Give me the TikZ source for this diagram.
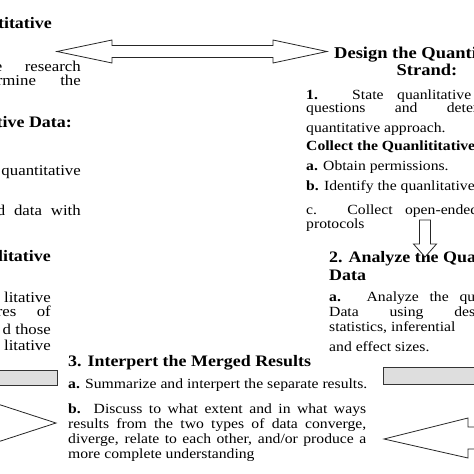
\documentclass[tikz,border=0pt]{standalone}
\usepackage{fontspec}
\setmainfont{Liberation Serif}[FakeStretch=1.12]
\newcommand{\ftxt}{\fontsize{14}{15}\selectfont}
\newcommand{\fleft}{\fontsize{15}{16}\selectfont}
\newcommand{\fhead}{\fontsize{16}{17}\selectfont\bfseries}
% one justified line of a given width
\newcommand{\jl}[2]{\makebox[#1pt][s]{#2}}
\tikzset{
  ln/.style={anchor=base west, inner sep=0pt, font=\ftxt},
  lnr/.style={ln, anchor=base east, font=\fleft},
  lnb/.style={ln, font=\ftxt\bfseries},
  hdr/.style={ln, font=\fhead},
  hdrr/.style={hdr, anchor=base east},
  blk/.style={draw=black!85, line width=0.8pt, fill=white},
  bar/.style={draw=black!80, line width=1pt, fill=black!13}
}
\begin{document}
\begin{tikzpicture}[x=1pt,y=-1pt]
\useasboundingbox (0,0) rectangle (474,474);
\clip (0,0) rectangle (474,474);

% left strand
\node[hdrr] (lhead) at (52,28) {titative};
\node[lnr] (l1) at (81,71) {\jl{86}{e research}};
\node[lnr] (l2) at (81,85) {\jl{84}{rmine the}};
\node[hdrr] (lcoll) at (72,127) {tive Data:};
\node[lnr] (l3) at (81,175) {quantitative};
\node[lnr] (l4) at (81,215) {\jl{84}{d data with}};
\node[hdrr] (lana) at (51,261) {litative};
\node[lnr] (l5) at (51,302) {litative};
\node[lnr] (l6) at (51,316) {\jl{54}{res of}};
\node[lnr] (l7) at (51,334) {d those};
\node[lnr] (l8) at (51,350) {litative};

% right strand
\node[hdr, font=\fontsize{16.5}{17}\selectfont\bfseries] (rhead) at (334,58) {Design the Quanti};
\node[hdr, anchor=base, font=\fontsize{16.5}{17}\selectfont\bfseries] (rstrand) at (427,75) {Strand:};
\node[ln] (r1) at (306,99) {\jl{165}{\textbf{1.} State quanlitative}};
\node[ln] (r2) at (306,112) {\jl{172}{questions and deter}};
\node[ln] (r3) at (306,132) {quantitative approach.};
\node[lnb] (rcoll) at (306,150) {Collect the Quanlititative};
\node[ln] (r4) at (306,170) {\textbf{a.} Obtain permissions.};
\node[ln] (r5) at (306,190) {\textbf{b.} Identify the quanlitative};
\node[ln] (r6) at (306,214) {\jl{172}{c. Collect open-ended}};
\node[ln] (r7) at (306,228) {protocols};

\node[hdr] (rana) at (329,262) {2. Analyze the Qua};
\node[hdr] (rdata) at (329,280) {Data};
\node[ln] (r8) at (329,301) {\jl{146}{\textbf{a.} Analyze the qu}};
\node[ln] (r9) at (329,316) {\jl{146}{Data using des}};
\node[ln] (r10) at (329,331) {statistics, inferential};
\node[ln] (r11) at (329,351) {and effect sizes.};

% merged results
\node[hdr] (mhead) at (68,366) {3. Interpert the Merged Results};
\node[ln] (m1) at (68,388) {\textbf{a.} Summarize and interpert the separate results.};
\node[ln] (m2) at (68,413) {\jl{298}{\textbf{b.} Discuss to what extent and in what ways}};
\node[ln] (m3) at (68,428) {\jl{298}{results from the two types of data converge,}};
\node[ln] (m4) at (68,443) {\jl{298}{diverge, relate to each other, and/or produce a}};
\node[ln] (m5) at (68,458) {more complete understanding};

% block arrows
\draw[blk] (57,51.5) -- (112,40) -- (112,45.5) -- (273,45.5) -- (273,40)
  -- (327,51.5) -- (273,63) -- (273,57.5) -- (112,57.5) -- (112,63) -- cycle;
\draw[blk] (419.5,220) -- (430.5,220) -- (430.5,244) -- (436.5,244)
  -- (425,257) -- (413.5,244) -- (419.5,244) -- cycle;
\draw[bar] (-5,370) rectangle (57,385);
\draw[bar] (383,367) rectangle (480,384);
\draw[blk] (-30,395) -- (56,423) -- (-30,451);
\draw[blk] (384,439) -- (468,418) -- (468,427) -- (490,427) -- (490,449)
  -- (468,449) -- (468,458) -- cycle;
\end{tikzpicture}
\end{document}
